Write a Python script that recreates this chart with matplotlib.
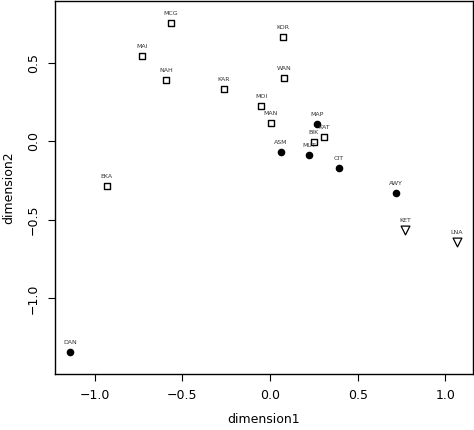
import matplotlib
matplotlib.use('Agg')
import matplotlib.pyplot as plt

# MDS coordinates
squares = ['MCG', 'KOR', 'MAI', 'NAH', 'KAR', 'WAN', 'MOI', 'MAN', 'KAT', 'BIK', 'EKA']
sq_x = [-0.565, 0.074, -0.73, -0.593, -0.262, 0.08, -0.051, 0.006, 0.308, 0.251, -0.93]
sq_y = [0.753, 0.664, 0.543, 0.39, 0.333, 0.403, 0.225, 0.117, 0.027, -0.004, -0.285]

dots = ['MAP', 'ASM', 'MUT', 'CIT', 'AWY', 'DAN']
dot_x = [0.268, 0.063, 0.222, 0.394, 0.719, -1.14]
dot_y = [0.11, -0.068, -0.087, -0.17, -0.33, -1.342]

tris = ['KET', 'LNA']
tri_x = [0.77, 1.067]
tri_y = [-0.565, -0.641]

fig = plt.figure(figsize=(4.74, 4.30), dpi=100)
ax = fig.add_axes([0.116, 0.130, 0.882, 0.868])

ax.scatter(sq_x, sq_y, marker='s', s=22, facecolors='white', edgecolors='black', linewidths=1.0, zorder=3)
ax.scatter(dot_x, dot_y, marker='o', s=20, color='black', zorder=3)
ax.scatter(tri_x, tri_y, marker='v', s=40, facecolors='white', edgecolors='black', linewidths=0.9, zorder=3)

for names, xs, ys in [(squares, sq_x, sq_y), (dots, dot_x, dot_y), (tris, tri_x, tri_y)]:
    for n, x, y in zip(names, xs, ys):
        ax.annotate(n, (x, y), xytext=(0, 5), textcoords='offset points',
                    ha='center', va='bottom', fontsize=4.5, color='#333333')

ax.set_xlim(-1.226, 1.158)
ax.set_ylim(-1.482, 0.894)
ax.set_xticks([-1.0, -0.5, 0.0, 0.5, 1.0])
ax.set_yticks([0.5, 0.0, -0.5, -1.0])
ax.set_xticklabels(['−1.0', '−0.5', '0.0', '0.5', '1.0'])
ax.set_yticklabels(['0.5', '0.0', '−0.5', '−1.0'], rotation=90, va='center')
ax.tick_params(labelsize=9, direction='out', length=5, pad=6)
ax.set_xlabel('dimension1', fontsize=9, labelpad=8)
ax.set_ylabel('dimension2', fontsize=9, labelpad=8)
for sp in ax.spines.values():
    sp.set_linewidth(1.0)

fig.savefig('out.png', dpi=100)
